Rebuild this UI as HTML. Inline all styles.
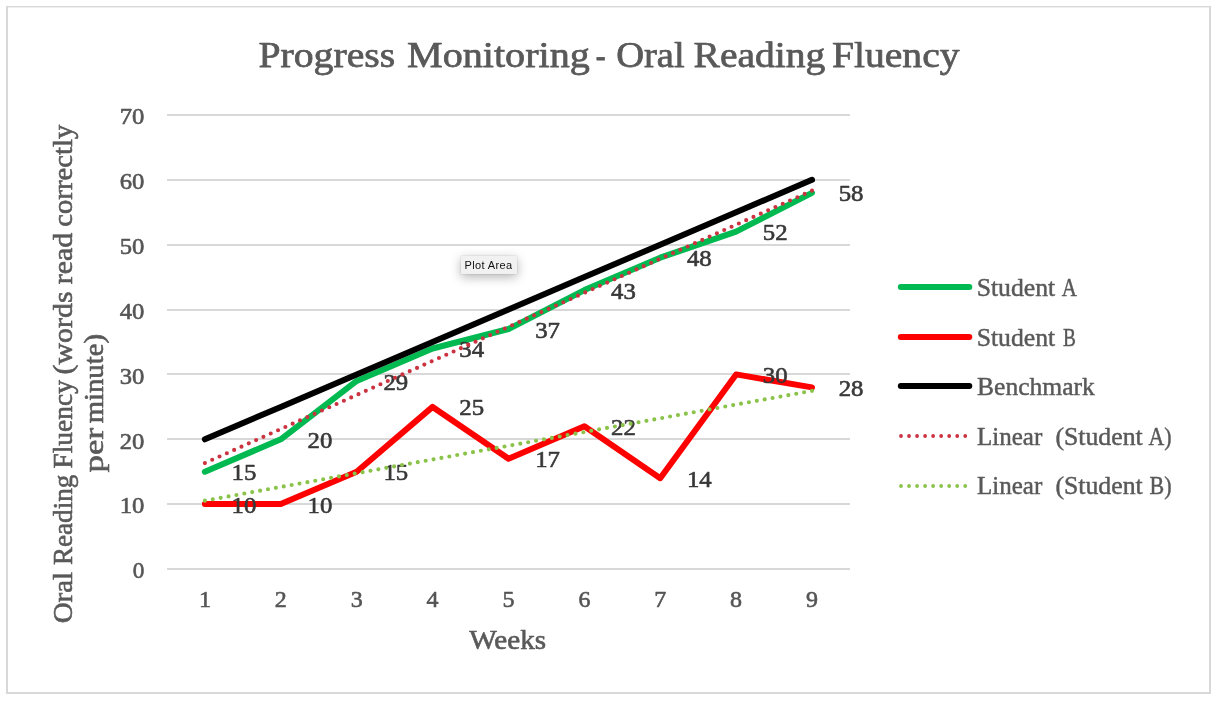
<!DOCTYPE html>
<html lang="en"><head><meta charset="utf-8"><title>Progress Monitoring - Oral Reading Fluency</title>
<style>html,body{margin:0;padding:0;background:#fff;}body{width:1218px;height:701px;overflow:hidden;position:relative;}svg{display:block;position:absolute;left:0;top:0;}text{font-family:"Liberation Serif","DejaVu Serif",serif;}
text{stroke-linejoin:round;}.ax{fill:#555;stroke:#555;stroke-width:.6px;font-size:24px;}.dl{fill:#383838;stroke:#383838;stroke-width:.62px;font-size:23.9px;}.lg{fill:#595959;stroke:#595959;stroke-width:.45px;font-size:24.5px;}.at{fill:#595959;stroke:#595959;stroke-width:.6px;font-size:27px;}.tt{fill:#595959;stroke:#595959;stroke-width:.75px;font-size:36.4px;}
#tip{position:absolute;left:461px;top:255.5px;width:56px;height:18.5px;background:#f1f1f1;box-shadow:0 3px 11px rgba(0,0,0,.3),0 0 1px rgba(0,0,0,.25);font-family:"Liberation Sans","DejaVu Sans",sans-serif;font-size:11px;line-height:18.5px;color:#101010;text-align:left;padding-left:3.5px;box-sizing:border-box;letter-spacing:.38px;white-space:nowrap;}
</style></head><body>
<svg width="1218" height="701" viewBox="0 0 1218 701">
<rect x="0" y="0" width="1218" height="701" fill="#fff"/>
<rect x="6" y="6" width="1205" height="688" fill="#d8d8d8"/><rect x="8" y="7.4" width="1201" height="684.6" fill="#fff"/>
<rect x="167" y="568" width="683" height="2" fill="#d8d8d8"/>
<rect x="167" y="503" width="683" height="2" fill="#d8d8d8"/>
<rect x="167" y="438" width="683" height="2" fill="#d8d8d8"/>
<rect x="167" y="373" width="683" height="2" fill="#d8d8d8"/>
<rect x="167" y="309" width="683" height="2" fill="#d8d8d8"/>
<rect x="167" y="244" width="683" height="2" fill="#d8d8d8"/>
<rect x="167" y="179" width="683" height="2" fill="#d8d8d8"/>
<rect x="167" y="114" width="683" height="2" fill="#d8d8d8"/>
<text class="ax" x="132.8" y="578" textLength="11.6" lengthAdjust="spacingAndGlyphs">0</text>
<text class="ax" x="119.8" y="513" textLength="24.6" lengthAdjust="spacingAndGlyphs">10</text>
<text class="ax" x="119.8" y="449" textLength="24.6" lengthAdjust="spacingAndGlyphs">20</text>
<text class="ax" x="119.8" y="384" textLength="24.6" lengthAdjust="spacingAndGlyphs">30</text>
<text class="ax" x="119.8" y="319" textLength="24.6" lengthAdjust="spacingAndGlyphs">40</text>
<text class="ax" x="119.8" y="254" textLength="24.6" lengthAdjust="spacingAndGlyphs">50</text>
<text class="ax" x="119.8" y="189" textLength="24.6" lengthAdjust="spacingAndGlyphs">60</text>
<text class="ax" x="119.8" y="124" textLength="24.6" lengthAdjust="spacingAndGlyphs">70</text>
<text class="ax" x="204.9" y="607" text-anchor="middle">1</text>
<text class="ax" x="280.8" y="607" text-anchor="middle">2</text>
<text class="ax" x="356.7" y="607" text-anchor="middle">3</text>
<text class="ax" x="432.6" y="607" text-anchor="middle">4</text>
<text class="ax" x="508.5" y="607" text-anchor="middle">5</text>
<text class="ax" x="584.4" y="607" text-anchor="middle">6</text>
<text class="ax" x="660.2" y="607" text-anchor="middle">7</text>
<text class="ax" x="736.1" y="607" text-anchor="middle">8</text>
<text class="ax" x="812.0" y="607" text-anchor="middle">9</text>
<text class="tt" y="67"><tspan x="258.4" textLength="136.9" lengthAdjust="spacingAndGlyphs">Progress</tspan> <tspan x="407.0" textLength="182.8" lengthAdjust="spacingAndGlyphs">Monitoring</tspan> <tspan x="595.7" textLength="9.9" lengthAdjust="spacingAndGlyphs">-</tspan> <tspan x="616.2" textLength="68.5" lengthAdjust="spacingAndGlyphs">Oral</tspan> <tspan x="693.5" textLength="131.8" lengthAdjust="spacingAndGlyphs">Reading</tspan> <tspan x="832.0" textLength="127.5" lengthAdjust="spacingAndGlyphs">Fluency</tspan></text>
<text class="at" x="469.2" y="649" textLength="77" lengthAdjust="spacingAndGlyphs">Weeks</text>
<text class="at" transform="translate(71.8,0) rotate(-90)"><tspan x="-623.3" textLength="51.4" lengthAdjust="spacingAndGlyphs">Oral</tspan> <tspan x="-565.1" textLength="90.4" lengthAdjust="spacingAndGlyphs">Reading</tspan> <tspan x="-468.6" textLength="88.6" lengthAdjust="spacingAndGlyphs">Fluency</tspan> <tspan x="-374.4" textLength="82.9" lengthAdjust="spacingAndGlyphs">(words</tspan> <tspan x="-284.3" textLength="51.4" lengthAdjust="spacingAndGlyphs">read</tspan> <tspan x="-226.8" textLength="102.2" lengthAdjust="spacingAndGlyphs">correctly</tspan></text>
<text class="at" transform="translate(102.6,0) rotate(-90)"><tspan x="-472.4" textLength="44.4" lengthAdjust="spacingAndGlyphs">per</tspan> <tspan x="-423.3" textLength="89.3" lengthAdjust="spacingAndGlyphs">minute)</tspan></text>
<polyline points="204.9,471.7 280.8,439.3 356.7,380.9 432.6,348.5 508.5,329.0 584.4,290.1 660.2,257.7 736.1,231.7 812.0,192.8" fill="none" stroke="#00b950" stroke-width="6" stroke-linecap="round" stroke-linejoin="round"/>
<polyline points="204.9,504.1 280.8,504.1 356.7,471.7 432.6,406.9 508.5,458.7 584.4,426.3 660.2,478.2 736.1,374.4 812.0,387.4" fill="none" stroke="#ff0000" stroke-width="6" stroke-linecap="round" stroke-linejoin="round"/>
<polyline points="204.9,439.3 280.8,406.9 356.7,374.4 432.6,342.0 508.5,309.6 584.4,277.1 660.2,244.7 736.1,212.3 812.0,179.8" fill="none" stroke="#000" stroke-width="6" stroke-linecap="round" stroke-linejoin="round"/>
<text class="dl" x="231.6" y="480.0" textLength="24.8" lengthAdjust="spacingAndGlyphs">15</text>
<text class="dl" x="307.5" y="448.0" textLength="24.8" lengthAdjust="spacingAndGlyphs">20</text>
<text class="dl" x="383.4" y="390.0" textLength="24.8" lengthAdjust="spacingAndGlyphs">29</text>
<text class="dl" x="459.3" y="357.0" textLength="24.8" lengthAdjust="spacingAndGlyphs">34</text>
<text class="dl" x="535.2" y="338.0" textLength="24.8" lengthAdjust="spacingAndGlyphs">37</text>
<text class="dl" x="611.1" y="299.0" textLength="24.8" lengthAdjust="spacingAndGlyphs">43</text>
<text class="dl" x="686.9" y="266.0" textLength="24.8" lengthAdjust="spacingAndGlyphs">48</text>
<text class="dl" x="762.8" y="240.0" textLength="24.8" lengthAdjust="spacingAndGlyphs">52</text>
<text class="dl" x="838.7" y="201.0" textLength="24.8" lengthAdjust="spacingAndGlyphs">58</text>
<text class="dl" x="231.6" y="513.0" textLength="24.8" lengthAdjust="spacingAndGlyphs">10</text>
<text class="dl" x="307.5" y="513.0" textLength="24.8" lengthAdjust="spacingAndGlyphs">10</text>
<text class="dl" x="383.4" y="480.0" textLength="24.8" lengthAdjust="spacingAndGlyphs">15</text>
<text class="dl" x="459.3" y="415.0" textLength="24.8" lengthAdjust="spacingAndGlyphs">25</text>
<text class="dl" x="535.2" y="467.0" textLength="24.8" lengthAdjust="spacingAndGlyphs">17</text>
<text class="dl" x="611.1" y="435.0" textLength="24.8" lengthAdjust="spacingAndGlyphs">22</text>
<text class="dl" x="686.9" y="487.0" textLength="24.8" lengthAdjust="spacingAndGlyphs">14</text>
<text class="dl" x="762.8" y="383.0" textLength="24.8" lengthAdjust="spacingAndGlyphs">30</text>
<text class="dl" x="838.7" y="396.0" textLength="24.8" lengthAdjust="spacingAndGlyphs">28</text>
<line x1="204.90" y1="463.06" x2="812.02" y2="190.65" stroke="#cb3340" stroke-width="4.15" stroke-linecap="round" stroke-dasharray="0 8.0170"/>
<line x1="204.90" y1="500.68" x2="812.02" y2="390.85" stroke="#8bc34a" stroke-width="4.15" stroke-linecap="round" stroke-dasharray="0 8.0124"/>
<line x1="900.8" x2="969.3" y1="287.0" y2="287.0" stroke="#00b950" stroke-width="6" stroke-linecap="round"/>
<line x1="900.8" x2="969.3" y1="337.0" y2="337.0" stroke="#ff0000" stroke-width="6" stroke-linecap="round"/>
<line x1="900.8" x2="969.3" y1="386.0" y2="386.0" stroke="#000" stroke-width="6" stroke-linecap="round"/>
<line x1="901" x2="966" y1="436.0" y2="436.0" stroke="#cb3340" stroke-width="3.8" stroke-linecap="round" stroke-dasharray="0 8.03"/>
<line x1="901" x2="966" y1="486.0" y2="486.0" stroke="#8bc34a" stroke-width="3.8" stroke-linecap="round" stroke-dasharray="0 8.03"/>
<text class="lg" y="296"><tspan x="976.7" textLength="78.5" lengthAdjust="spacingAndGlyphs">Student</tspan> <tspan x="1061.8" textLength="15.1" lengthAdjust="spacingAndGlyphs">A</tspan></text>
<text class="lg" y="346"><tspan x="976.7" textLength="78.5" lengthAdjust="spacingAndGlyphs">Student</tspan> <tspan x="1063.1" textLength="12.9" lengthAdjust="spacingAndGlyphs">B</tspan></text>
<text class="lg" y="395"><tspan x="977.0" textLength="117.8" lengthAdjust="spacingAndGlyphs">Benchmark</tspan></text>
<text class="lg" y="445"><tspan x="977.0" textLength="65.3" lengthAdjust="spacingAndGlyphs">Linear</tspan> <tspan x="1055.4" textLength="87.3" lengthAdjust="spacingAndGlyphs">(Student</tspan> <tspan x="1148.6" textLength="23.0" lengthAdjust="spacingAndGlyphs">A)</tspan></text>
<text class="lg" y="494"><tspan x="977.0" textLength="65.3" lengthAdjust="spacingAndGlyphs">Linear</tspan> <tspan x="1055.4" textLength="87.3" lengthAdjust="spacingAndGlyphs">(Student</tspan> <tspan x="1149.6" textLength="22.0" lengthAdjust="spacingAndGlyphs">B)</tspan></text>
</svg>
<div id="tip">Plot Area</div>
</body></html>
